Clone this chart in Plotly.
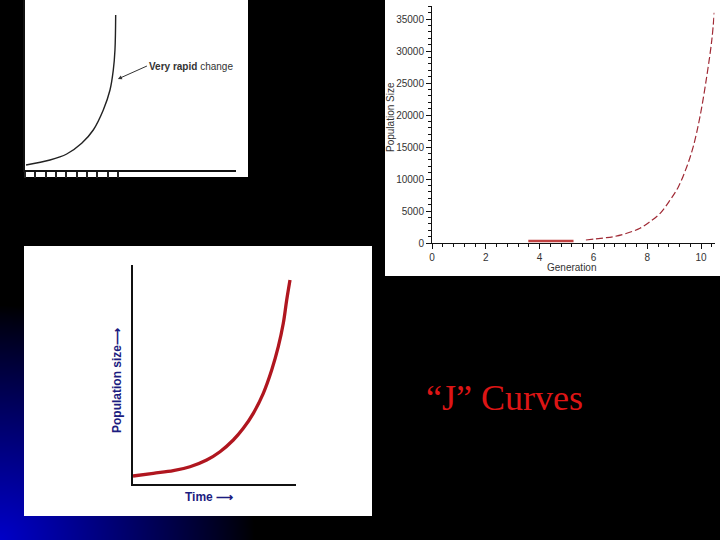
import zlib, struct, base64
import plotly.graph_objects as go

# ---------------- data ----------------
# Panel 1 (top-left): generic J curve, arbitrary units
p1_x = [0.1, 2.42, 4.04, 5.49, 6.61, 7.58, 8.23, 8.55, 8.71, 8.78]
p1_y = [0.5, 1.0, 1.6, 2.67, 4.0, 6.0, 8.0, 10.0, 12.0, 15.5]
p1_ticks = list(range(10))

# Panel 2 (top-right): Population Size vs Generation
p2_gen = [5.72, 6.37, 6.74, 7.24, 7.73, 8.10, 8.48, 8.85, 9.16, 9.47, 9.71, 9.96, 10.21, 10.40, 10.49]
p2_pop = [470, 780, 990, 1520, 2300, 3330, 4640, 6720, 8800, 11920, 15050, 19730, 25980, 31720, 35980]
p2_flat_gen = [3.58, 5.26]
p2_flat_pop = [300, 300]
p2_xticks = [0, 2, 4, 6, 8, 10]
p2_yticks = [0, 5000, 10000, 15000, 20000, 25000, 30000, 35000]

# Panel 3 (bottom-left): Population size vs Time
p3_x = [0, 2.03, 4.03, 5.7, 7.37, 8.7, 10.03, 11.03, 12.03, 13.03, 13.87, 14.53, 15.03, 15.37, 15.7]
p3_y = [0.8, 1.07, 1.33, 1.73, 2.4, 3.23, 4.4, 5.57, 7.07, 9.07, 11.4, 13.73, 16.07, 18.4, 20.4]

W, H = 720, 540

def px_x(v):
    return v / W

def px_y(v):
    return 1 - v / H

# ---------------- background gradient image (full resolution) ----------------
def make_png():
    gw, gh = W, H
    rows = []
    for j in range(gh):
        row = bytearray(1 + gw * 3)
        py = j + 0.5
        dy = (540 - py) / 235.0
        dy2 = dy * dy
        if dy < 1:
            for i in range(270):
                dx = (i + 0.5) / 255.0
                d2 = dx * dx + dy2
                if d2 < 1:
                    t = 1 - d2 ** 0.5
                    row[1 + i * 3 + 2] = int(200 * t ** 0.9)
        rows.append(bytes(row))
    raw = b"".join(rows)

    def chunk(tag, data):
        c = struct.pack(">I", len(data)) + tag + data
        return c + struct.pack(">I", zlib.crc32(tag + data) & 0xFFFFFFFF)

    png = b"\x89PNG\r\n\x1a\n"
    png += chunk(b"IHDR", struct.pack(">IIBBBBB", gw, gh, 8, 2, 0, 0, 0))
    png += chunk(b"IDAT", zlib.compress(raw, 9))
    png += chunk(b"IEND", b"")
    return "data:image/png;base64," + base64.b64encode(png).decode()

fig = go.Figure()

# Panel 1 curve
fig.add_trace(go.Scatter(x=p1_x, y=p1_y, mode="lines", line=dict(color="#222222", width=1.4, shape="spline"),
                         xaxis="x", yaxis="y", hoverinfo="skip", showlegend=False))
# Panel 2 curves
fig.add_trace(go.Scatter(x=p2_flat_gen, y=p2_flat_pop, mode="lines", line=dict(color="#c04040", width=2.5),
                         xaxis="x2", yaxis="y2", hoverinfo="skip", showlegend=False))
fig.add_trace(go.Scatter(x=p2_gen, y=p2_pop, mode="lines",
                         line=dict(color="#a02a35", width=1.2, dash="7px,3px", shape="spline"),
                         xaxis="x2", yaxis="y2", hoverinfo="skip", showlegend=False, cliponaxis=False))
# Panel 3 curve
fig.add_trace(go.Scatter(x=p3_x, y=p3_y, mode="lines", line=dict(color="#b0161f", width=3.3, shape="spline"),
                         xaxis="x3", yaxis="y3", hoverinfo="skip", showlegend=False))

tickfont2 = dict(family="Liberation Sans, Arial, sans-serif", size=10, color="#333333")

fig.update_layout(
    template="none",
    width=W, height=H, autosize=False,
    margin=dict(l=0, r=0, t=0, b=0, pad=0, autoexpand=False),
    paper_bgcolor="black",
    plot_bgcolor="rgba(0,0,0,0)",
    showlegend=False,
    images=[dict(source=make_png(), xref="paper", yref="paper", x=0, y=1, sizex=1, sizey=1,
                 xanchor="left", yanchor="top", sizing="stretch", layer="below")],
    shapes=[
        dict(type="rect", xref="paper", yref="paper", x0=px_x(24), x1=px_x(248), y0=px_y(177), y1=px_y(0),
             fillcolor="white", line=dict(width=0), layer="below"),
        dict(type="rect", xref="paper", yref="paper", x0=px_x(385), x1=px_x(720), y0=px_y(276), y1=px_y(0),
             fillcolor="white", line=dict(width=0), layer="below"),
        dict(type="rect", xref="paper", yref="paper", x0=px_x(24), x1=px_x(372), y0=px_y(516), y1=px_y(246),
             fillcolor="white", line=dict(width=0), layer="below"),
    ],
    # Panel 1 axes
    xaxis=dict(domain=[px_x(25), px_x(236)], range=[0, 20.43], anchor="y", automargin=False,
               showline=True, linecolor="#111111", linewidth=1.5,
               ticks="outside", tickvals=p1_ticks, ticklen=6, tickwidth=1.5, tickcolor="#222222",
               showticklabels=False, showgrid=False, zeroline=False, fixedrange=True),
    yaxis=dict(domain=[px_y(170), px_y(0)], range=[0, 17], anchor="x", automargin=False,
               showline=True, linecolor="#111111", linewidth=1.5,
               showticklabels=False, showgrid=False, zeroline=False, ticks="", fixedrange=True),
    # Panel 2 axes
    xaxis2=dict(domain=[px_x(432), px_x(714.5)], range=[0, 10.5], anchor="y2", automargin=False,
                showline=True, linecolor="#111111", linewidth=1,
                ticks="outside", tickvals=p2_xticks, ticklen=5, tickwidth=1, tickcolor="#111111",
                minor=dict(dtick=0.4, tick0=0, ticks="outside", ticklen=3, tickwidth=1, tickcolor="#111111"),
                tickfont=tickfont2, showgrid=False, zeroline=False, fixedrange=True),
    yaxis2=dict(domain=[px_y(243), px_y(6.2)], range=[0, 37000], anchor="x2", automargin=False,
                showline=True, linecolor="#111111", linewidth=1,
                ticks="outside", tickvals=p2_yticks, ticklen=5, tickwidth=1, tickcolor="#111111", tickformat="d",
                minor=dict(dtick=1000, tick0=0, ticks="outside", ticklen=3, tickwidth=1, tickcolor="#111111"),
                tickfont=tickfont2, showgrid=False, zeroline=False, fixedrange=True),
    # Panel 3 axes
    xaxis3=dict(domain=[px_x(133), px_x(296)], range=[0, 16.3], anchor="y3", automargin=False,
                showline=True, linecolor="#111111", linewidth=1.5,
                showticklabels=False, showgrid=False, zeroline=False, ticks="", fixedrange=True),
    yaxis3=dict(domain=[px_y(484), px_y(265)], range=[0, 21.9], anchor="x3", automargin=False,
                showline=True, linecolor="#111111", linewidth=1.5,
                showticklabels=False, showgrid=False, zeroline=False, ticks="", fixedrange=True),
)

navy = "#1c1c80"
sans = "Liberation Sans, Arial, sans-serif"
fig.update_layout(annotations=[
    # Panel 1 annotation
    dict(x=9.0, y=9.1, xref="x", yref="y", text="<b>Very rapid</b> change", showarrow=True,
         ax=29, ay=-13, xanchor="left", yanchor="middle",
         arrowhead=2, arrowsize=0.8, arrowwidth=1, arrowcolor="#333333",
         font=dict(family=sans, size=10, color="#333333")),
    # Panel 2 titles
    dict(x=px_x(390), y=px_y(117), xref="paper", yref="paper", text="Population Size", textangle=-90,
         xanchor="center", yanchor="middle",
         showarrow=False, font=dict(family=sans, size=10, color="#333333")),
    dict(x=px_x(571), y=px_y(268), xref="paper", yref="paper", text="Generation",
         xanchor="center", yanchor="middle",
         showarrow=False, font=dict(family=sans, size=10, color="#333333")),
    # Panel 3 titles
    dict(x=px_x(117), y=px_y(381), xref="paper", yref="paper", text="<b>Population size\u27f6</b>", textangle=-90,
         xanchor="center", yanchor="middle",
         showarrow=False, font=dict(family=sans, size=12, color=navy)),
    dict(x=px_x(209), y=px_y(497), xref="paper", yref="paper", text="<b>Time \u27f6</b>",
         xanchor="center", yanchor="middle",
         showarrow=False, font=dict(family=sans, size=12, color=navy)),
    # Slide caption
    dict(x=px_x(505), y=px_y(398), xref="paper", yref="paper", text="\u201cJ\u201d Curves",
         xanchor="center", yanchor="middle",
         showarrow=False, font=dict(family="Liberation Serif, Times New Roman, serif", size=36, color="#dd1515")),
])

fig.write_html("out.html", config={"displayModeBar": False},
               post_script="document.body.style.margin='0';document.body.style.background='black';")
